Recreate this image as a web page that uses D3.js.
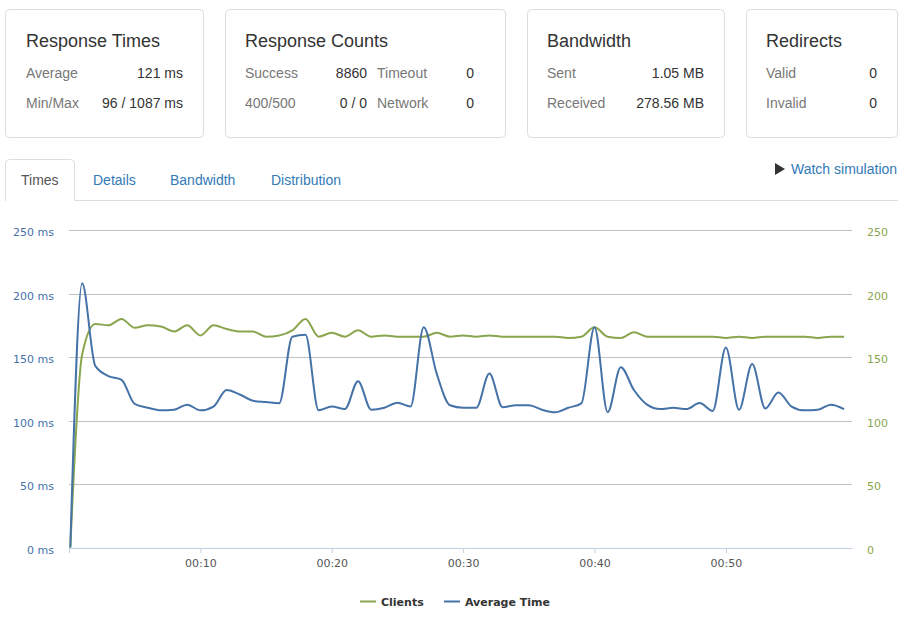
<!DOCTYPE html>
<html>
<head>
<meta charset="utf-8">
<script src="https://cdnjs.cloudflare.com/ajax/libs/d3/7.8.5/d3.min.js"></script>
<style>
  html, body { margin: 0; padding: 0; background: #fff; }
  svg { display: block; }
</style>
</head>
<body>
<svg id="chart" width="910" height="634"></svg>
<script>
// ---------- DATA ----------
const seconds = [0,1,2,3,4,5,6,7,8,9,10,11,12,13,14,15,16,17,18,19,20,21,22,23,24,25,26,27,28,29,
                 30,31,32,33,34,35,36,37,38,39,40,41,42,43,44,45,46,47,48,49,50,51,52,53,54,55,56,57,58,59];
const clients = [0,152,176,175,180,173,175,174,170,175,167,175,172,170,170,166,167,171,180,166,
                 169,166,171,166,167,166,166,166,169,166,167,166,167,166,166,166,166,166,165,166,
                 173.5,166,165,169.5,166,166,166,166,166,166,165,166,165,166,166,166,166,165,166,166];
const avgTime = [0,208,143,135,132,113,110,108,108.5,112.5,108,111,124,120.5,115.5,114.5,113.5,166,167.5,108,
                 111,109,131,108.5,110,114,111,173.5,136.5,112,110,110,137,110.5,112,112,108.5,106.5,110,113.5,
                 173.5,106.5,142,124,112.5,109,110,109,113.7,107.5,157.5,108.5,144.5,109.5,122,111,108,108.5,112.5,109];
const leftTicks = [0,50,100,150,200,250];
const xTicks = [0,10,20,30,40,50];
const xTickLabels = ["","00:10","00:20","00:30","00:40","00:50"];
const seriesNames = ["Clients","Average Time"];
const tabs = ["Times","Details","Bandwidth","Distribution"];

const cards = [
  {title:"Response Times", x:5, w:198, tx:26, rows:[["Average","121 ms"],["Min/Max","96 / 1087 ms"]], valX:183},
  {title:"Response Counts", x:225, w:280, tx:245, rows:[["Success","8860"],["400/500","0 / 0"]], valX:367,
     rows2:[["Timeout","0"],["Network","0"]], lab2X:377, val2X:474},
  {title:"Bandwidth", x:527, w:197, tx:547, rows:[["Sent","1.05 MB"],["Received","278.56 MB"]], valX:704},
  {title:"Redirects", x:746, w:151, tx:766, rows:[["Valid","0"],["Invalid","0"]], valX:877}
];

// ---------- DRAW ----------
const svg = d3.select("#chart");
const UI = "'Helvetica Neue', 'Liberation Sans', Arial, sans-serif";
const CH = "'DejaVu Sans', 'Lucida Grande', sans-serif";

// cards
cards.forEach(c => {
  const g = svg.append("g");
  g.append("rect").attr("x", c.x + 0.5).attr("y", 9.5).attr("width", c.w).attr("height", 128)
    .attr("rx", 4).attr("fill", "#fff").attr("stroke", "#ddd");
  g.append("text").attr("x", c.tx).attr("y", 46.5).text(c.title)
    .attr("font-family", UI).attr("font-size", 18).attr("fill", "#333");
  const rowY = [78, 108];
  c.rows.forEach((r, i) => {
    g.append("text").attr("x", c.tx).attr("y", rowY[i]).text(r[0])
      .attr("font-family", UI).attr("font-size", 14).attr("fill", "#777");
    g.append("text").attr("x", c.valX).attr("y", rowY[i]).text(r[1]).attr("text-anchor", "end")
      .attr("font-family", UI).attr("font-size", 14).attr("fill", "#333");
  });
  if (c.rows2) c.rows2.forEach((r, i) => {
    g.append("text").attr("x", c.lab2X).attr("y", rowY[i]).text(r[0])
      .attr("font-family", UI).attr("font-size", 14).attr("fill", "#777");
    g.append("text").attr("x", c.val2X).attr("y", rowY[i]).text(r[1]).attr("text-anchor", "end")
      .attr("font-family", UI).attr("font-size", 14).attr("fill", "#333");
  });
});

// tabs
svg.append("line").attr("x1", 5).attr("x2", 898).attr("y1", 200.5).attr("y2", 200.5).attr("stroke", "#ddd");
svg.append("path").attr("d", "M5.5,201 V163.5 Q5.5,159.5 9.5,159.5 H70.5 Q74.5,159.5 74.5,163.5 V201")
  .attr("fill", "#fff").attr("stroke", "#ddd");
svg.append("rect").attr("x", 6).attr("y", 199).attr("width", 68).attr("height", 3).attr("fill", "#fff");
const tabX = [21, 93, 170, 271];
tabs.forEach((t, i) => {
  svg.append("text").attr("x", tabX[i]).attr("y", 185).text(t)
    .attr("font-family", UI).attr("font-size", 14).attr("fill", i === 0 ? "#555" : "#337ab7");
});
svg.append("path").attr("d", "M775,163 L785,169 L775,175 Z").attr("fill", "#333");
svg.append("text").attr("x", 791).attr("y", 174).text("Watch simulation")
  .attr("font-family", UI).attr("font-size", 14).attr("fill", "#337ab7");

// scales
const x = d3.scaleLinear().domain([0, 59.6]).range([69, 852]);
const yL = d3.scaleLinear().domain([0, 250]).range([547.5, 230]);
const yR = d3.scaleLinear().domain([0, 250]).range([547.5, 230]);

// grid
svg.append("g").selectAll("line").data(leftTicks).join("line")
  .attr("x1", 69).attr("x2", 852)
  .attr("y1", d => Math.round(yL(d)) + 0.5).attr("y2", d => Math.round(yL(d)) + 0.5)
  .attr("stroke", "#C0C0C0");

// x axis
const xAxis = d3.axisBottom(x).tickValues(xTicks).tickSize(5).tickSizeOuter(0)
  .tickFormat((d, i) => xTickLabels[i]);
const gx = svg.append("g").attr("transform", "translate(0,548)").call(xAxis);
gx.select(".domain").attr("stroke", "#C0D0E0");
gx.selectAll(".tick line").attr("stroke", "#C0D0E0");
gx.selectAll(".tick text").attr("font-family", CH).attr("font-size", 11).attr("fill", "#555").attr("dy", "0.98em");

// left axis
const gyl = svg.append("g").attr("transform", "translate(54,0)")
  .call(d3.axisLeft(yL).tickValues(leftTicks).tickSize(0).tickFormat(d => d + " ms"));
gyl.select(".domain").remove();
gyl.selectAll("text").attr("font-family", CH).attr("font-size", 11).attr("fill", "#4572A7").attr("x", 0).attr("dy", "0.5em");

// right axis
const gyr = svg.append("g").attr("transform", "translate(867,0)")
  .call(d3.axisRight(yR).tickValues(leftTicks).tickSize(0).tickFormat(d => d));
gyr.select(".domain").remove();
gyr.selectAll("text").attr("font-family", CH).attr("font-size", 11).attr("fill", "#89A54E").attr("x", 0).attr("dy", "0.5em");

// lines
const lineC = d3.line().x((d, i) => x(seconds[i] === 0 ? 0.1 : seconds[i])).y(d => yR(d)).curve(d3.curveMonotoneX);
const lineA = d3.line().x((d, i) => x(seconds[i] === 0 ? 0.1 : seconds[i])).y(d => yL(d)).curve(d3.curveMonotoneX);
svg.append("path").datum(clients).attr("d", lineC).attr("fill", "none")
  .attr("stroke", "#89A54E").attr("stroke-width", 2).attr("stroke-linejoin", "round");
svg.append("path").datum(avgTime).attr("d", lineA).attr("fill", "none")
  .attr("stroke", "#4572A7").attr("stroke-width", 2).attr("stroke-linejoin", "round");

// legend
const legColors = ["#89A54E", "#4572A7"];
const legX = [360, 444];
seriesNames.forEach((n, i) => {
  svg.append("line").attr("x1", legX[i]).attr("x2", legX[i] + 16).attr("y1", 601.5).attr("y2", 601.5)
    .attr("stroke", legColors[i]).attr("stroke-width", 2);
  svg.append("text").attr("x", legX[i] + 21).attr("y", 605.5).text(n)
    .attr("font-family", CH).attr("font-size", 11).attr("font-weight", "bold").attr("fill", "#333");
});
</script>
</body>
</html>
